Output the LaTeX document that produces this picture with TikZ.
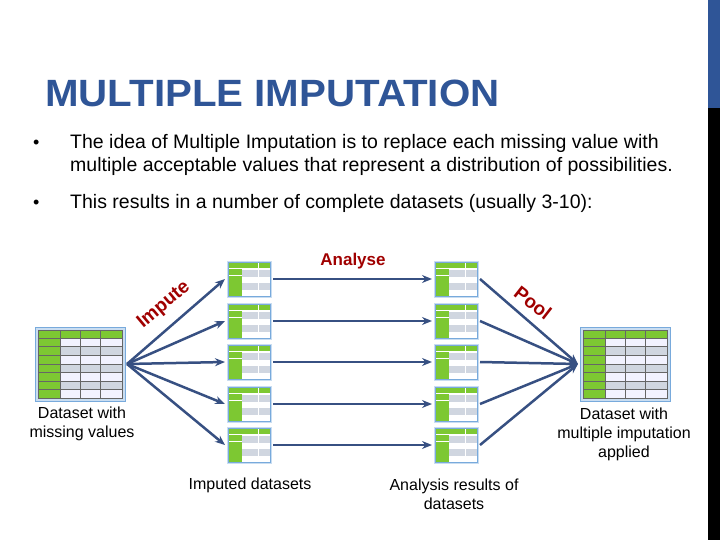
\documentclass[tikz,border=0pt]{standalone}
\usepackage{fontspec}
\setmainfont{Liberation Sans}
\usepackage{graphicx}
\definecolor{tblue}{RGB}{47,85,151}
\definecolor{arr}{RGB}{55,80,130}
\definecolor{gr}{RGB}{125,200,50}
\definecolor{lred}{RGB}{160,0,0}
\definecolor{rowg}{RGB}{208,214,224}
\definecolor{edgeb}{RGB}{120,170,220}
\tikzset{
 conn/.style={draw=arr,line width=2.5pt,-{Stealth[length=10pt,width=8pt]}},
 lbl/.style={font=\fontsize{16}{19}\selectfont,align=center,inner sep=0},
 red/.style={text=lred,font=\bfseries\fontsize{19}{21}\selectfont,inner sep=0},
 bul/.style={anchor=base west,inner sep=0,font=\fontsize{19.5}{23}\selectfont},
}
\usetikzlibrary{arrows.meta}
\newcommand{\smalltab}[3]{% name, x, y (top-left)
 \begin{scope}[shift={(#2,#3)}]
 \fill[edgeb!40] (-1.5,-1.5) rectangle (43.5,35.5);
 \fill[white] (0,0) rectangle (42,34);
 \foreach \r in {1,3}{\fill[rowg] (14,{\r*6.8+1}) rectangle (42,{(\r+1)*6.8+1});}
 \fill[gr] (0,0) rectangle (42,6);
 \fill[gr] (0,0) rectangle (14,34);
 \draw[white,line width=0.5pt] (0,6)--(42,6) (0,13)--(14,13) (30,0)--(30,34);
 \draw[edgeb,line width=0.8pt] (0,0) rectangle (42,34);
 \end{scope}
 \coordinate (#1) at (#2+21,#3+17);
 \coordinate (#1w) at (#2-3,#3+17);
 \coordinate (#1e) at (#2+45,#3+17);
}
\newcommand{\bigtab}[3]{%
 \begin{scope}[shift={(#2,#3)}]
 \fill[edgeb!40] (-3,-3) rectangle (87,71);
 \draw[edgeb,line width=1pt] (-3,-3) rectangle (87,71);
 \foreach \r in {0,...,6}{\pgfmathsetmacro\yy{8+\r*8.57}
   \ifodd\r \fill[rowg] (22,\yy) rectangle (84,\yy+8.57);\else\fill[white!95!blue] (22,\yy) rectangle (84,\yy+8.57);\fi}
 \fill[gr] (0,0) rectangle (84,8);
 \fill[gr] (0,0) rectangle (22,68);
 \foreach \r in {1,...,7}{\draw[gray!80!black,line width=0.4pt] (0,{8+(\r-1)*8.57}) -- (84,{8+(\r-1)*8.57});}
 \foreach \c in {22,42,62}{\draw[gray!80!black,line width=0.4pt] (\c,0)--(\c,68);}
 \draw[gray!80!black,line width=0.5pt] (0,0) rectangle (84,68);
 \end{scope}
 \coordinate (#1w) at (#2-5,#3+34);
 \coordinate (#1e) at (#2+89,#3+34);
}
\begin{document}
\begin{tikzpicture}[x=1pt,y=-1pt]
\useasboundingbox (0,0) rectangle (720,540);
\fill[tblue] (708,0) rectangle (720,108);
\fill[black] (708,108) rectangle (720,540);
\node[anchor=base west,inner sep=0,text=tblue] (title) at (45,107)
 {\scalebox{1.06}[1]{\bfseries\fontsize{38}{40}\selectfont MULTIPLE IMPUTATION}};
\node[bul,font=\fontsize{18}{20}\selectfont] (b1) at (33,149) {•};
\node[bul] (t1) at (70,149)
 {The idea of Multiple Imputation is to replace each missing value with};
\node[bul] (t1b) at (70,172)
 {multiple acceptable values that represent a distribution of possibilities.};
\node[bul,font=\fontsize{18}{20}\selectfont] (b2) at (33,209) {•};
\node[bul] (t2) at (70,209)
 {This results in a number of complete datasets (usually 3-10):};
\bigtab{L}{38}{330}
\bigtab{R}{583}{330}
\foreach \i/\y in {1/262,2/304,3/345,4/387,5/428}{
  \smalltab{I\i}{228}{\y}
  \smalltab{A\i}{435}{\y}
}
\foreach \i in {1,...,5}{
  \draw[conn] (Le) -- (I\i w);
  \draw[conn] (I\i e) -- (A\i w);
  \draw[conn] (A\i e) -- (Rw);
}
\node[red,rotate=40] (imp) at (164,305) {Impute};
\node[red,rotate=-38] (pool) at (533,303) {Pool};
\node[red,font=\bfseries\fontsize{17}{19}\selectfont] (an) at (353,261) {Analyse};
\node[lbl] (d1) at (82,424) {Dataset with\\missing values};
\node[lbl] (d2) at (624,434) {Dataset with\\multiple imputation\\applied};
\node[lbl] (d3) at (250,485) {Imputed datasets};
\node[lbl] (d4) at (454,494) {Analysis results of\\datasets};
\end{tikzpicture}
\end{document}
